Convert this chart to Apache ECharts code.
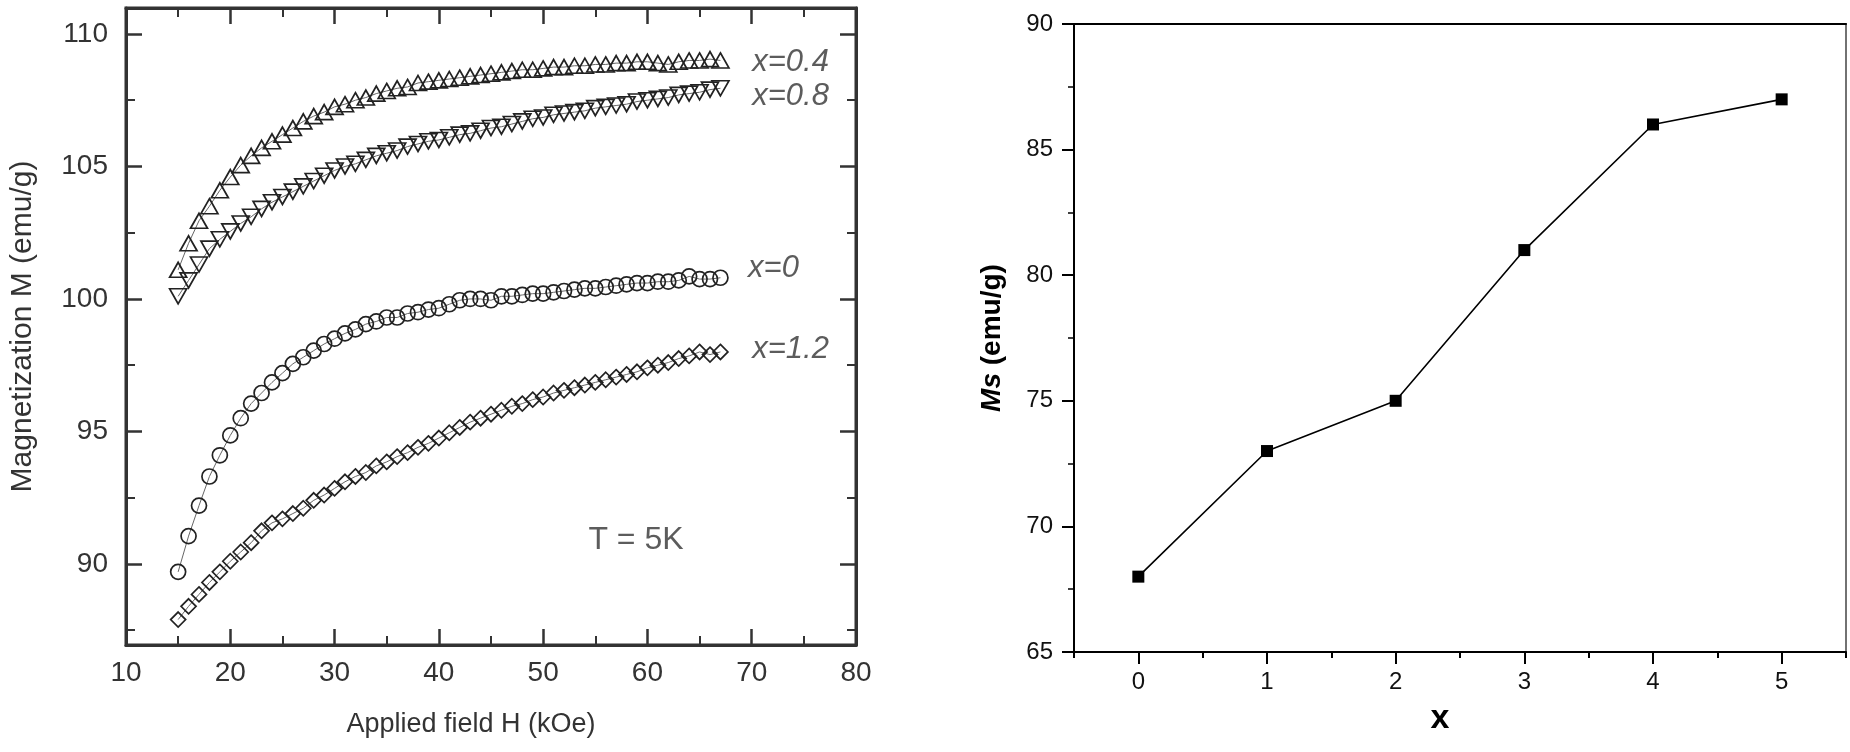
<!DOCTYPE html>
<html>
<head>
<meta charset="utf-8">
<script src="https://cdn.jsdelivr.net/npm/echarts@6/dist/echarts.min.js"></script>
<style>
html,body{margin:0;padding:0;background:#fff;}
#chart{width:1850px;height:752px;}
</style>
</head>
<body>
<div id="chart"></div>
<script>
// ---------- Left panel: M(H) at T = 5K ----------
const fieldH = [15,16,17,18,19,20,21,22,23,24,25,26,27,28,29,30,31,32,33,34,35,36,37,38,39,40,41,42,43,44,45,46,47,48,49,50,51,52,53,54,55,56,57,58,59,60,61,62,63,64,65,66,67];

const mX04 = [101.1,102.1,102.95,103.5,104.1,104.6,105.05,105.4,105.7,105.95,106.2,106.45,106.7,106.9,107.05,107.25,107.35,107.5,107.6,107.75,107.85,107.95,108.0,108.15,108.2,108.25,108.3,108.35,108.4,108.45,108.5,108.55,108.6,108.65,108.65,108.7,108.75,108.75,108.8,108.8,108.85,108.85,108.9,108.9,108.95,108.95,108.9,108.85,108.95,109.0,109.0,109.05,109.0];

const mX08 = [100.1,100.7,101.3,101.9,102.25,102.55,102.85,103.1,103.4,103.65,103.85,104.05,104.25,104.45,104.65,104.85,105.0,105.1,105.25,105.4,105.5,105.6,105.75,105.85,105.95,106.0,106.1,106.2,106.25,106.35,106.45,106.5,106.6,106.7,106.8,106.85,106.95,107.0,107.05,107.1,107.2,107.25,107.3,107.35,107.45,107.5,107.55,107.6,107.7,107.75,107.8,107.9,107.95];

const mX0 = [89.7,91.05,92.2,93.3,94.1,94.85,95.5,96.05,96.45,96.85,97.2,97.55,97.8,98.05,98.3,98.5,98.7,98.85,99.05,99.15,99.3,99.3,99.45,99.5,99.6,99.65,99.8,99.95,100.0,100.0,99.95,100.1,100.1,100.15,100.2,100.2,100.25,100.3,100.35,100.4,100.4,100.45,100.5,100.55,100.6,100.6,100.65,100.65,100.7,100.85,100.75,100.75,100.8];

const mX12 = [87.9,88.4,88.85,89.3,89.7,90.1,90.45,90.8,91.25,91.55,91.7,91.9,92.1,92.4,92.6,92.85,93.1,93.3,93.45,93.7,93.85,94.05,94.2,94.4,94.55,94.75,94.95,95.15,95.35,95.5,95.65,95.8,95.95,96.05,96.2,96.3,96.45,96.55,96.65,96.75,96.85,96.95,97.05,97.15,97.25,97.4,97.5,97.6,97.75,97.85,98.0,97.9,98.0];

const curveLabels = ['x=0.4', 'x=0.8', 'x=0', 'x=1.2'];
const curveLabelH = [70.0, 70.0, 69.6, 70.0];
const curveLabelM = [108.94, 107.66, 101.17, 98.11];
const tempLabel = 'T = 5K';
const tempLabelH = 58.9;
const tempLabelM = 90.9;

// ---------- Right panel: Ms vs x ----------
const xCats = ['0', '1', '2', '3', '4', '5'];
const msValues = [68, 73, 75, 81, 86, 87];

const leftText = '#333';
const FONT = 'Liberation Sans, Arial, Helvetica, sans-serif';

function pairs(xs, ys) { return xs.map((x, i) => [x, ys[i]]); }

const markerStyle = { color: 'rgba(0,0,0,0)', borderColor: '#222', borderWidth: 1.7 };
const fitLine = { color: '#666', width: 1 };

function curveSeries(name, ys, symbol, size, rotate) {
  return {
    name: name, type: 'line', xAxisIndex: 0, yAxisIndex: 0,
    data: pairs(fieldH, ys),
    symbol: symbol, symbolSize: size, symbolRotate: rotate || 0,
    showAllSymbol: true,
    itemStyle: markerStyle,
    lineStyle: fitLine,
    z: 3
  };
}

const leftTickMajor = { inside: true, length: 16, lineStyle: { color: '#333', width: 2.5 } };
const leftTickMinor = { show: true, splitNumber: 2, length: 9, lineStyle: { color: '#333', width: 2 } };
const leftLine = { show: true, lineStyle: { color: '#333', width: 3 } };

const fmtY = v => (Math.abs(v / 5 - Math.round(v / 5)) < 1e-6 ? String(Math.round(v)) : '');

const option = {
  animation: false,
  backgroundColor: '#fff',
  textStyle: { fontFamily: FONT },
  grid: [
    { left: 126, top: 8, width: 730, height: 637, show: true, borderColor: '#333', borderWidth: 3, backgroundColor: 'rgba(0,0,0,0)' },
    { left: 1074, top: 24, width: 772, height: 628, show: true, borderColor: '#444', borderWidth: 1.5, backgroundColor: 'rgba(0,0,0,0)' }
  ],
  xAxis: [
    {
      gridIndex: 0, type: 'value', position: 'bottom', min: 10, max: 80, interval: 10,
      axisLine: leftLine, axisTick: leftTickMajor, minorTick: leftTickMinor,
      splitLine: { show: false },
      axisLabel: { fontSize: 28, color: leftText, margin: 14, fontFamily: FONT },
      name: 'Applied field H (kOe)', nameLocation: 'middle', nameGap: 66,
      nameTextStyle: { fontSize: 27, color: leftText, fontFamily: FONT, padding: [0, 40, 0, 0] }
    },
    {
      gridIndex: 0, type: 'value', position: 'top', min: 10, max: 80, interval: 10,
      axisLine: leftLine, axisTick: leftTickMajor, minorTick: leftTickMinor,
      splitLine: { show: false }, axisLabel: { show: false }
    },
    {
      gridIndex: 1, type: 'category', position: 'bottom', data: xCats, boundaryGap: true,
      axisLine: { show: true, lineStyle: { color: '#000', width: 2 } },
      axisTick: { show: true, alignWithLabel: true, inside: false, length: 12, lineStyle: { color: '#000', width: 2 } },
      axisLabel: { fontSize: 24, color: '#111', margin: 18, fontFamily: FONT },
      splitLine: { show: false },
      name: 'x', nameLocation: 'middle', nameGap: 50,
      nameTextStyle: { fontSize: 34, fontWeight: 'bold', color: '#000', fontFamily: FONT, padding: [0, 40, 0, 0] }
    },
    {
      gridIndex: 1, type: 'category', position: 'bottom', data: xCats, boundaryGap: true,
      axisLine: { show: false },
      axisTick: { show: true, alignWithLabel: false, inside: false, length: 6, lineStyle: { color: '#000', width: 2 } },
      axisLabel: { show: false }, splitLine: { show: false }
    },
    {
      gridIndex: 1, type: 'category', position: 'top', data: xCats, boundaryGap: true,
      axisLine: { show: true, lineStyle: { color: '#000', width: 2 } },
      axisTick: { show: false }, axisLabel: { show: false }, splitLine: { show: false }
    }
  ],
  yAxis: [
    {
      gridIndex: 0, type: 'value', position: 'left', min: 86.94, max: 110.98, splitNumber: 5,
      axisLine: leftLine, axisTick: leftTickMajor, minorTick: leftTickMinor,
      splitLine: { show: false },
      axisLabel: { fontSize: 28, color: leftText, margin: 18, fontFamily: FONT, formatter: fmtY, showMinLabel: true, showMaxLabel: true },
      name: 'Magnetization M (emu/g)', nameLocation: 'middle', nameGap: 88,
      nameTextStyle: { fontSize: 30, color: leftText, fontFamily: FONT }
    },
    {
      gridIndex: 0, type: 'value', position: 'right', min: 86.94, max: 110.98, splitNumber: 5,
      axisLine: leftLine, axisTick: leftTickMajor, minorTick: leftTickMinor,
      splitLine: { show: false }, axisLabel: { show: false }
    },
    {
      gridIndex: 1, type: 'value', position: 'left', min: 65, max: 90, interval: 5,
      axisLine: { show: true, lineStyle: { color: '#000', width: 2 } },
      axisTick: { show: true, inside: false, length: 12, lineStyle: { color: '#000', width: 2 } },
      minorTick: { show: true, splitNumber: 2, length: 6, lineStyle: { color: '#000', width: 1.5 } },
      splitLine: { show: false },
      axisLabel: { fontSize: 24, color: '#111', margin: 21, fontFamily: FONT },
      name: '{i|Ms} (emu/g)', nameLocation: 'middle', nameGap: 68,
      nameTextStyle: {
        fontSize: 28, fontWeight: 'bold', color: '#000', fontFamily: FONT,
        rich: { i: { fontSize: 28, fontWeight: 'bold', fontStyle: 'italic', color: '#000', fontFamily: FONT } }
      }
    }
  ],
  series: [
    curveSeries('x=0.4', mX04, 'triangle', [17, 15], 0),
    curveSeries('x=0.8', mX08, 'triangle', [17, 15], 180),
    curveSeries('x=0', mX0, 'circle', 15, 0),
    curveSeries('x=1.2', mX12, 'diamond', [15, 15], 0),
    {
      name: 'curve labels', type: 'scatter', xAxisIndex: 0, yAxisIndex: 0,
      symbolSize: 1, itemStyle: { color: 'rgba(0,0,0,0)' }, silent: true,
      data: curveLabels.map((t, i) => ({ value: [curveLabelH[i], curveLabelM[i]], name: t })),
      label: { show: true, position: 'right', distance: 0, formatter: p => p.name,
               fontSize: 31, fontStyle: 'italic', color: leftText, fontFamily: FONT },
      z: 5
    },
    {
      name: 'temperature', type: 'scatter', xAxisIndex: 0, yAxisIndex: 0,
      symbolSize: 1, itemStyle: { color: 'rgba(0,0,0,0)' }, silent: true,
      data: [{ value: [tempLabelH, tempLabelM], name: tempLabel }],
      label: { show: true, position: 'inside', formatter: p => p.name,
               fontSize: 32, color: leftText, fontFamily: FONT },
      z: 5
    },
    {
      name: 'Ms', type: 'line', xAxisIndex: 2, yAxisIndex: 2,
      data: msValues,
      symbol: 'rect', symbolSize: 12,
      itemStyle: { color: '#000' },
      lineStyle: { color: '#000', width: 1.6 },
      z: 3
    }
  ]
};

const chart = echarts.init(document.getElementById('chart'), null, { renderer: 'canvas' });
chart.setOption(option);
</script>
</body>
</html>
